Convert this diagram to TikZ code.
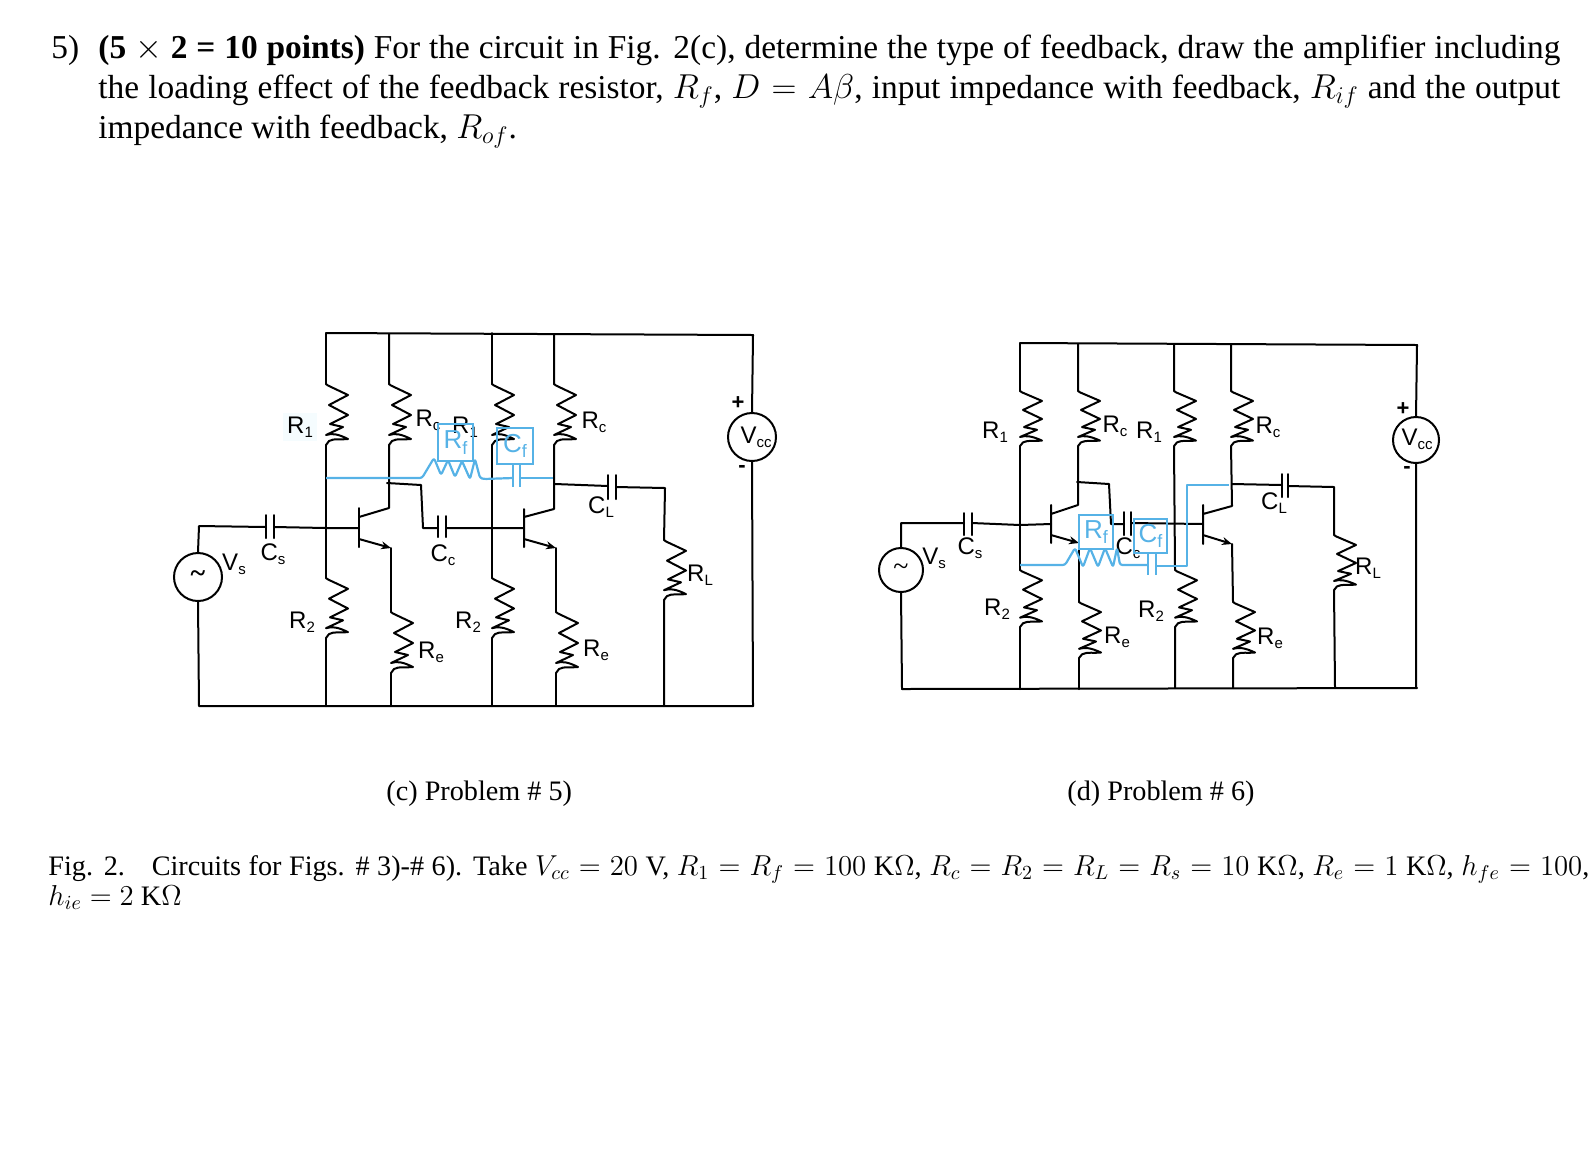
\documentclass[tikz,border=0pt]{standalone}
\usepackage{fontspec}
\setmainfont{Liberation Serif}
\setsansfont{Liberation Sans}
\usetikzlibrary{arrows.meta}
\definecolor{fb}{HTML}{56B2E6}
\tikzset{
 wire/.style={black,line width=1pt,line join=round,line cap=round},
 fbwire/.style={fb,line width=1.1pt,line join=round},
 lab/.style={font=\sffamily\fontsize{12}{12}\selectfont,inner sep=0pt},
 fblab/.style={font=\sffamily\fontsize{13}{13}\selectfont,inner sep=0pt,text=fb},
 txt/.style={anchor=base west,inner sep=0pt,font=\fontsize{16.7}{20}\selectfont},
 captxt/.style={anchor=base west,inner sep=0pt,font=\fontsize{14.1}{18}\selectfont},
}
\newcommand\sbs[2]{#1\raisebox{-0.3ex}{\fontsize{7.5}{7.5}\selectfont #2}}
\newcommand\fbs[2]{#1\raisebox{-0.4ex}{\fontsize{9}{9}\selectfont #2}}
% resistor: x, y top, y bottom
\newcommand\res[3]{\pgfmathsetmacro\rs{(#3-#2)/61}%
 \draw[wire,shift={(#1,#2)},yscale=\rs] (0,0) -- (2,1.5) -- (22,11) -- (3,21) -- (22,31) -- (4,40) -- (17,43) -- (0,51)
  .. controls (6,49) and (12,50) .. (22,55) .. controls (15,56) and (8,54) .. (3,57) -- (0,61);}
% capacitor: x1, x2, y1, y2, colour style
\newcommand\capa[5]{\draw[#5] (#1,#3) -- (#1,#4) (#2,#3) -- (#2,#4);}
\begin{document}
\begin{tikzpicture}[x=0.5pt,y=-0.5pt]
\useasboundingbox (0,0) rectangle (1593,1163);
% ---------- text ----------
\node[txt] (n5) at (51,58) {5)};
\node[txt] (l1) at (98,58) {\makebox[731pt][s]{\textbf{(5} $\times$ \textbf{2 = 10 points)} For the circuit in Fig. 2(c), determine the type of feedback, draw the amplifier including}};
\node[txt] (l2) at (98,98) {\makebox[731pt][s]{the loading effect of the feedback resistor, $R_f$, $D=A\beta$, input impedance with feedback, $R_{if}$ and the output}};
\node[txt] (l3) at (98,138) {impedance with feedback, $R_{of}$.};
\node[captxt] (cc) at (386,800) {(c) Problem \# 5)};
\node[captxt] (cd) at (1067,800) {(d) Problem \# 6)};
\node[captxt] (f1) at (48,875) {\makebox[770.5pt][s]{Fig. 2.\hspace{0.95em}Circuits for Figs. \# 3)-\# 6). Take $V_{cc}=20$ V, $R_1=R_f=100$ K$\Omega$, $R_c=R_2=R_L=R_s=10$ K$\Omega$, $R_e=1$ K$\Omega$, $h_{fe}=100$,}};
\node[captxt] (f2) at (48,905) {$h_{ie}=2$ K$\Omega$};
% ---------- circuit (c) ----------
\draw[wire] (326,333) -- (753,335) (326,706) -- (753,706);
\draw[wire] (326,333) -- (326,384) (326,445) -- (326,578) (326,638) -- (326,706);
\res{326}{384}{445}\res{326}{578}{638}
\draw[wire] (389,334) -- (389,384) (389,445) -- (389,508) -- (359,517);
\res{389}{384}{445}
\draw[wire,-{Stealth[length=5pt,width=4pt]}] (359,539) -- (391,548);
\draw[wire] (391,548) -- (391,612) (391,673) -- (391,706);
\res{391}{612}{673}
\draw[wire] (359,508) -- (359,547);
% source Vs
\node[circle,draw,line width=1pt,minimum size=24pt,inner sep=0pt] (vsc) at (198,577) {\bfseries\fontsize{14}{14}\selectfont\char`\~};
\draw[wire] (vsc.north) -- (199,526) -- (266,527) (274,527) -- (326,528) -- (359,528) (vsc.south) -- (199,706) -- (326,706);
\capa{266}{274}{515}{538}{wire}
% Cc stage link
\draw[wire] (387,483) -- (421,485) -- (423,528) -- (438,528) (446,528) -- (524,528);
\capa{438}{446}{516}{537}{wire}
% stage 2
\draw[wire] (492,333) -- (492,384) (492,445) -- (492,578) (492,638) -- (492,706);
\res{492}{384}{445}\res{492}{578}{638}
\draw[wire] (554,334) -- (554,384) (554,445) -- (554,509) -- (524,517) (524,509) -- (524,547);
\res{554}{384}{445}
\draw[wire,-{Stealth[length=5pt,width=4pt]}] (524,539) -- (556,548);
\draw[wire] (556,548) -- (556,612) (556,673) -- (556,706);
\res{556}{612}{673}
\draw[wire] (555,484) -- (608,486) (616,487) -- (665,488) -- (664,540) (664,600) -- (664,706);
\capa{608}{616}{475}{499}{wire}
\res{664}{540}{600}
% Vcc
\node[circle,draw,line width=1pt,minimum size=24pt,inner sep=0pt] (vcc1) at (752,437) {};
\draw[wire] (753,335) -- (vcc1.north) (vcc1.south) -- (753,706);
\node[lab,font=\sffamily\bfseries\fontsize{11}{11}\selectfont] (p1) at (738,403) {+};
\node[lab,font=\sffamily\bfseries\fontsize{11}{11}\selectfont] (m1) at (742,469) {-};
% labels (c)
\node[lab,fill=black!3!cyan!4,inner sep=2pt] (c1) at (300,427) {\sbs{R}{1}};
\node[lab] (c2) at (428,420) {\sbs{R}{c}};
\node[lab] (c3) at (465,427) {\sbs{R}{1}};
\node[lab] (c4) at (273,554) {\sbs{C}{s}};
\node[lab] (c5) at (234,564) {\sbs{V}{s}};
\node[lab] (c6) at (302,622) {\sbs{R}{2}};
\node[lab] (c7) at (443,555) {\sbs{C}{c}};
\node[lab] (c8) at (431,652) {\sbs{R}{e}};
\node[lab] (c9) at (468,622) {\sbs{R}{2}};
\node[lab] (c10) at (594,422) {\sbs{R}{c}};
\node[lab] (c11) at (601,507) {\sbs{C}{L}};
\node[lab] (c12) at (700,575) {\sbs{R}{L}};
\node[lab] (c13) at (596,650) {\sbs{R}{e}};
\node[lab] (c14) at (756,437) {\sbs{V}{cc}};
% feedback (c)
\node[draw=fb,line width=0.6pt,minimum width=17.5pt,minimum height=18.5pt,inner sep=0pt,fblab] (rfc) at (455.5,442.5) {\fbs{R}{f}};
\node[draw=fb,line width=0.6pt,minimum width=18pt,minimum height=18pt,inner sep=0pt,fblab] (cfc) at (515,446) {\fbs{C}{f}};
\draw[fbwire,rounded corners=1.2pt] (326,478) -- (422,478) -- (434,458) -- (441,475) -- (448,460) -- (455,477) -- (462,461) -- (470,479) -- (475,459) -- (480,478) -- (484,479) -- (513,478);
\draw[fbwire,line width=0.8pt] (520,478) -- (553,478);
\capa{513}{520}{463}{487}{fbwire}
% ---------- circuit (d) ----------
\draw[wire] (1020,343) -- (1417,345) (902,689) -- (1417,688);
\draw[wire] (1020,343) -- (1020,391) (1020,446) -- (1020,570) (1020,627) -- (1020,689);
\res{1020}{391}{446}\res{1020}{570}{627}
\draw[wire] (1078,344) -- (1078,391) (1078,446) -- (1078,505) -- (1051,514) (1051,505) -- (1051,543);
\res{1078}{391}{446}
\draw[wire,-{Stealth[length=5pt,width=4pt]}] (1051,535) -- (1079,543);
\draw[wire] (1079,543) -- (1079,602) (1079,658) -- (1079,689);
\res{1079}{602}{658}
\node[circle,draw,line width=1pt,minimum size=22pt,inner sep=0pt] (vsd) at (901,570) {\fontsize{14}{14}\selectfont\char`\~};
\draw[wire] (vsd.north) -- (901,523) -- (964,523) (972,523) -- (1020,525) -- (1051,524) (vsd.south) -- (902,689);
\capa{964}{972}{513}{535}{wire}
\draw[wire] (1077,482) -- (1109,484) -- (1111,524) -- (1124,524) (1131,523) -- (1203,524);
\capa{1124}{1131}{512}{535}{wire}
\draw[wire] (1174,344) -- (1174,391) (1174,446) -- (1175,570) (1175,627) -- (1175,688);
\res{1174}{391}{446}\res{1175}{570}{627}
\draw[wire] (1231,345) -- (1231,391) (1231,446) -- (1232,506) -- (1203,514) (1203,505) -- (1203,544);
\res{1231}{391}{446}
\draw[wire,-{Stealth[length=5pt,width=4pt]}] (1203,535) -- (1232,544);
\draw[wire] (1232,544) -- (1233,602) (1233,658) -- (1233,688);
\res{1233}{602}{658}
\draw[wire] (1232,484) -- (1282,485) (1288,486) -- (1334,487) -- (1334,535) (1334,590) -- (1335,688);
\capa{1282}{1288}{474}{497}{wire}
\res{1334}{535}{590}
\node[circle,draw,line width=1pt,minimum size=23pt,inner sep=0pt] (vcc2) at (1416,440) {};
\draw[wire] (1417,345) -- (vcc2.north) (vcc2.south) -- (1416,688);
\node[lab,font=\sffamily\bfseries\fontsize{11}{11}\selectfont] (p2) at (1403,409) {+};
\node[lab,font=\sffamily\bfseries\fontsize{11}{11}\selectfont] (m2) at (1407,470) {-};
% labels (d)
\node[lab] (d1) at (995,432) {\sbs{R}{1}};
\node[lab] (d2) at (1115,426) {\sbs{R}{c}};
\node[lab] (d3) at (1149,432) {\sbs{R}{1}};
\node[lab] (d4) at (934,558) {\sbs{V}{s}};
\node[lab] (d5) at (970,548) {\sbs{C}{s}};
\node[lab] (d6) at (1128,548) {\sbs{C}{c}};
\node[lab] (d7) at (997,609) {\sbs{R}{2}};
\node[lab] (d8) at (1151,611) {\sbs{R}{2}};
\node[lab] (d9) at (1117,637) {\sbs{R}{e}};
\node[lab] (d10) at (1268,427) {\sbs{R}{c}};
\node[lab] (d11) at (1274,503) {\sbs{C}{L}};
\node[lab] (d12) at (1368,568) {\sbs{R}{L}};
\node[lab] (d13) at (1270,638) {\sbs{R}{e}};
\node[lab] (d14) at (1417,439) {\sbs{V}{cc}};
% feedback (d)
\node[draw=fb,line width=0.6pt,minimum width=17pt,minimum height=17pt,inner sep=0pt,fblab] (rfd) at (1096,532) {\fbs{R}{f}};
\node[draw=fb,line width=0.6pt,minimum width=16.5pt,minimum height=17pt,inner sep=0pt,fblab] (cfd) at (1150.5,536) {\fbs{C}{f}};
\draw[fbwire,rounded corners=1.2pt] (1020,565) -- (1065,565) -- (1075,548) -- (1083,567) -- (1090,548) -- (1098,567) -- (1105,548) -- (1113,567) -- (1117,548) -- (1120,565) -- (1148,565);
\draw[fbwire] (1156,566) -- (1187,566) -- (1187,485) -- (1229,485);
\capa{1148}{1156}{553}{575}{fbwire}
\end{tikzpicture}
\end{document}
